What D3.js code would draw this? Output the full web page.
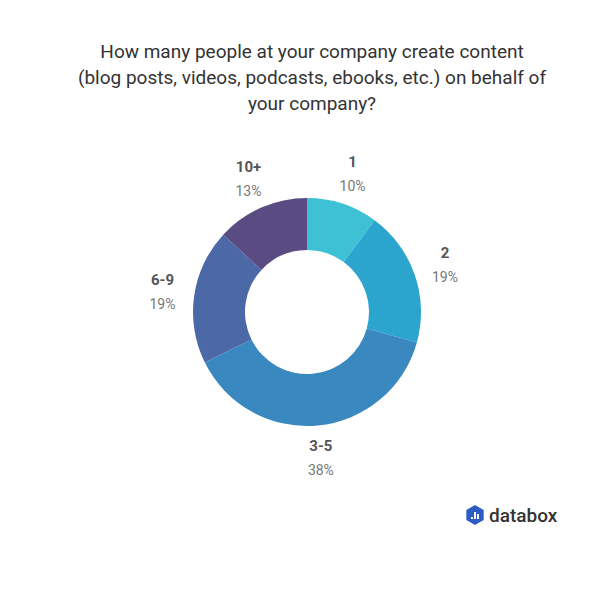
<!DOCTYPE html>
<html><head><meta charset="utf-8">
<script src="https://cdn.jsdelivr.net/npm/d3@7"></script>
<style>body{margin:0;background:#fff}</style></head>
<body><svg id="c" width="600" height="600"></svg>
<script>
const categories = ["1","2","3-5","6-9","10+"];
const values = [10,19,38,19,13];
const colors = ["#3EC1D4","#2BA5CD","#3A88C0","#4B69A7","#5A4C82"];
const titleLines = ["How many people at your company create content","(blog posts, videos, podcasts, ebooks, etc.) on behalf of","your company?"];

const svg = d3.select("#c");
const cx = 307, cy = 312;
svg.append("g").selectAll("text").data(titleLines).join("text")
  .attr("x",312).attr("y",(d,i)=>58+i*26).attr("text-anchor","middle")
  .attr("font-family","Roboto, sans-serif").attr("font-size",19).attr("fill","#333").text(d=>d);

const pie = d3.pie().sort(null).value(d=>d)(values);
const arc = d3.arc().innerRadius(62).outerRadius(114);
const g = svg.append("g").attr("transform",`translate(${cx},${cy})`);
g.selectAll("path").data(pie).join("path").attr("d",arc).attr("fill",(d,i)=>colors[i]);

const lr = 146;
pie.forEach((d,i)=>{
  const a=(d.startAngle+d.endAngle)/2;
  const x=Math.sin(a)*lr, y=-Math.cos(a)*lr;
  g.append("text").attr("x",x).attr("y",y-6).attr("text-anchor","middle")
   .attr("font-family","Roboto, sans-serif").attr("font-weight","bold").attr("font-size",15).attr("fill","#555").text(categories[i]);
  g.append("text").attr("x",x).attr("y",y+18).attr("text-anchor","middle")
   .attr("font-family","Roboto, sans-serif").attr("font-size",14).attr("fill","#777").text(values[i]+"%");
});

// logo
const lg = svg.append("g").attr("transform","translate(475,515)");
const hex = d3.range(6).map(k=>{const t=Math.PI/3*k-Math.PI/2;return [Math.cos(t)*10,Math.sin(t)*10];});
lg.append("path").attr("d","M"+hex.join("L")+"Z").attr("fill","#2F5CC4");
[[-4,2,2],[-1,-3,7],[2,-1,5]].forEach(b=>lg.append("rect").attr("x",b[0]).attr("y",b[1]).attr("width",2).attr("height",b[2]).attr("fill","#fff"));
svg.append("text").attr("x",489).attr("y",522).attr("font-family","Roboto, sans-serif").attr("font-weight","500")
  .attr("font-size",19).attr("fill","#333").text("databox");
</script></body></html>
